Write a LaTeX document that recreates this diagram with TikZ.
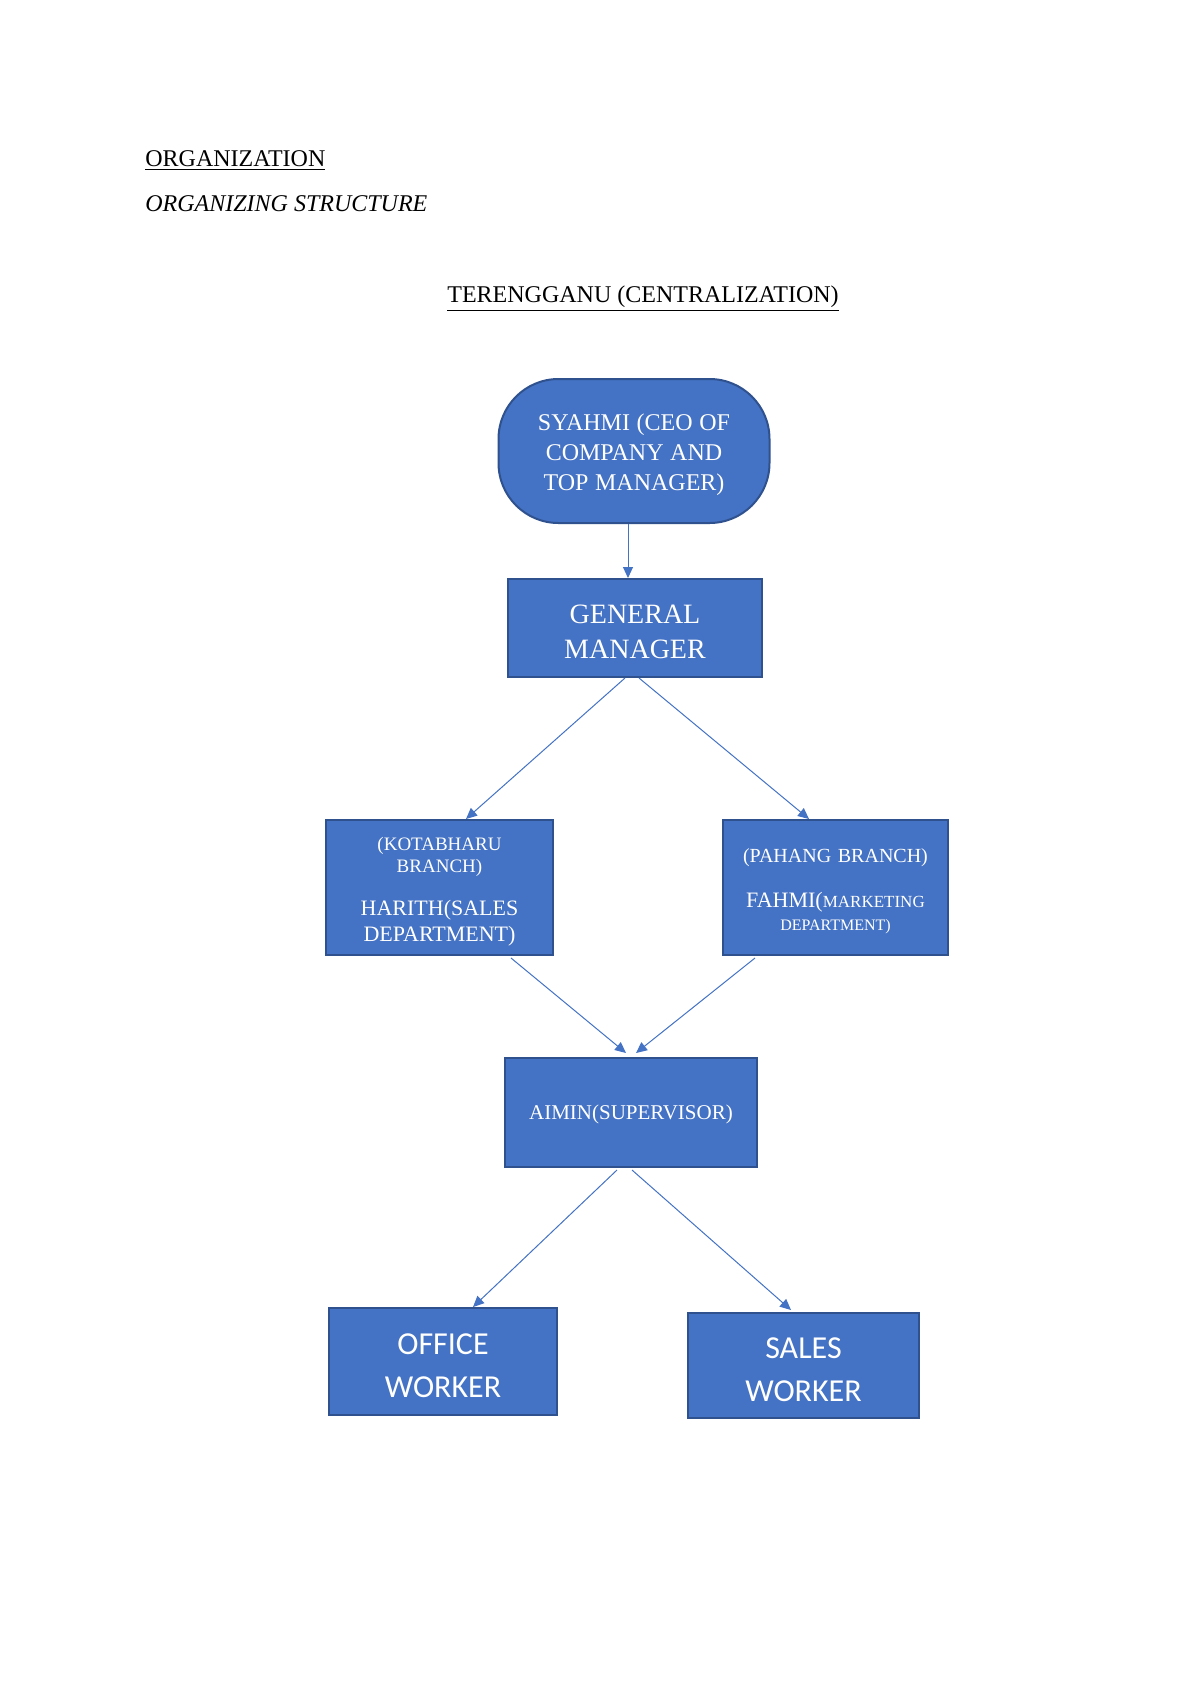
\documentclass[tikz,border=0pt]{standalone}
\usepackage{fontspec}
\setmainfont{Liberation Serif}
\newfontfamily\carlito{Carlito}
\usetikzlibrary{arrows.meta,calc}
\definecolor{boxfill}{HTML}{4472C4}
\definecolor{boxline}{HTML}{2F528F}
\newcommand{\bxend}{\par\vspace{-4pt}}
\begin{document}
\begin{tikzpicture}[x=0.5pt,y=-0.5pt,
  box/.style={draw=boxline, line width=1pt, fill=boxfill, text=white, inner sep=0pt, align=center},
  conn/.style={draw=boxfill, line width=0.5pt, -{Triangle[length=5.5pt,width=5pt]}},
  lbl/.style={anchor=base west, inner sep=0pt, font=\fontsize{12}{14}\selectfont}]
\useasboundingbox[fill=white] (0,0) rectangle (1200,1698);
\node[lbl] (t1) at (145,166) {\underline{ORGANIZATION}};
\node[lbl] (t2) at (145,211) {\itshape ORGANIZING STRUCTURE};
\node[lbl] (t3) at (447,302) {\underline{TERENGGANU (CENTRALIZATION)}};

\node[box, rounded corners=30pt, text width=135.5pt, minimum height=72pt] (ceo) at (634,451)
  {\fontsize{12}{15}\selectfont SYAHMI (CEO OF\\COMPANY AND\\TOP MANAGER)\bxend};
\node[box, text width=127pt, minimum height=49pt] (gm) at (635,628)
  {\fontsize{14}{17.5}\selectfont GENERAL\\MANAGER\bxend};
\node[box, text width=113.5pt, minimum height=67.5pt] (kb) at (439.5,887.5)
  {\fontsize{9.5}{11}\selectfont (KOTABHARU\\BRANCH)\par\vspace{8.5pt}\fontsize{11}{13}\selectfont HARITH(SALES\\DEPARTMENT)\bxend};
\node[box, text width=112.5pt, minimum height=67.5pt] (ph) at (835.5,887.5)
  {\fontsize{10}{12}\selectfont (PAHANG BRANCH)\par\vspace{11pt}\fontsize{11}{11.5}\selectfont FAHMI({\fontsize{8.5}{11.5}\selectfont MARKETING}\\{\fontsize{8}{11.5}\selectfont DEPARTMENT)}\bxend};
\node[box, text width=126pt, minimum height=54.5pt] (aim) at (631,1112.5)
  {\fontsize{10.5}{12}\selectfont AIMIN(SUPERVISOR)\bxend};
\node[box, text width=114pt, minimum height=53.5pt] (off) at (443,1361.5)
  {\carlito\fontsize{16}{21.5}\selectfont OFFICE\\WORKER\bxend};
\node[box, text width=115.5pt, minimum height=52.5pt] (sal) at (803.5,1365.5)
  {\carlito\fontsize{16}{21.5}\selectfont SALES\\WORKER\bxend};

\draw[conn] ($(ceo.south)+(-6,0)$) -- ($(gm.north)+(-7,0)$);
\draw[conn] ($(gm.south)+(-10,0)$) -- ($(kb.north)+(26.5,0)$);
\draw[conn] ($(gm.south)+(4,0)$) -- ($(ph.north)+(-26.5,0)$);
\draw[conn] ($(kb.south)+(71.5,2)$) -- ($(aim.north)+(-5,-4)$);
\draw[conn] ($(ph.south)+(-80.5,2)$) -- ($(aim.north)+(5,-4)$);
\draw[conn] ($(aim.south)+(-14,2)$) -- ($(off.north)+(30,0)$);
\draw[conn] ($(aim.south)+(1,2)$) -- ($(sal.north)+(-12.5,-2)$);
\end{tikzpicture}
\end{document}
